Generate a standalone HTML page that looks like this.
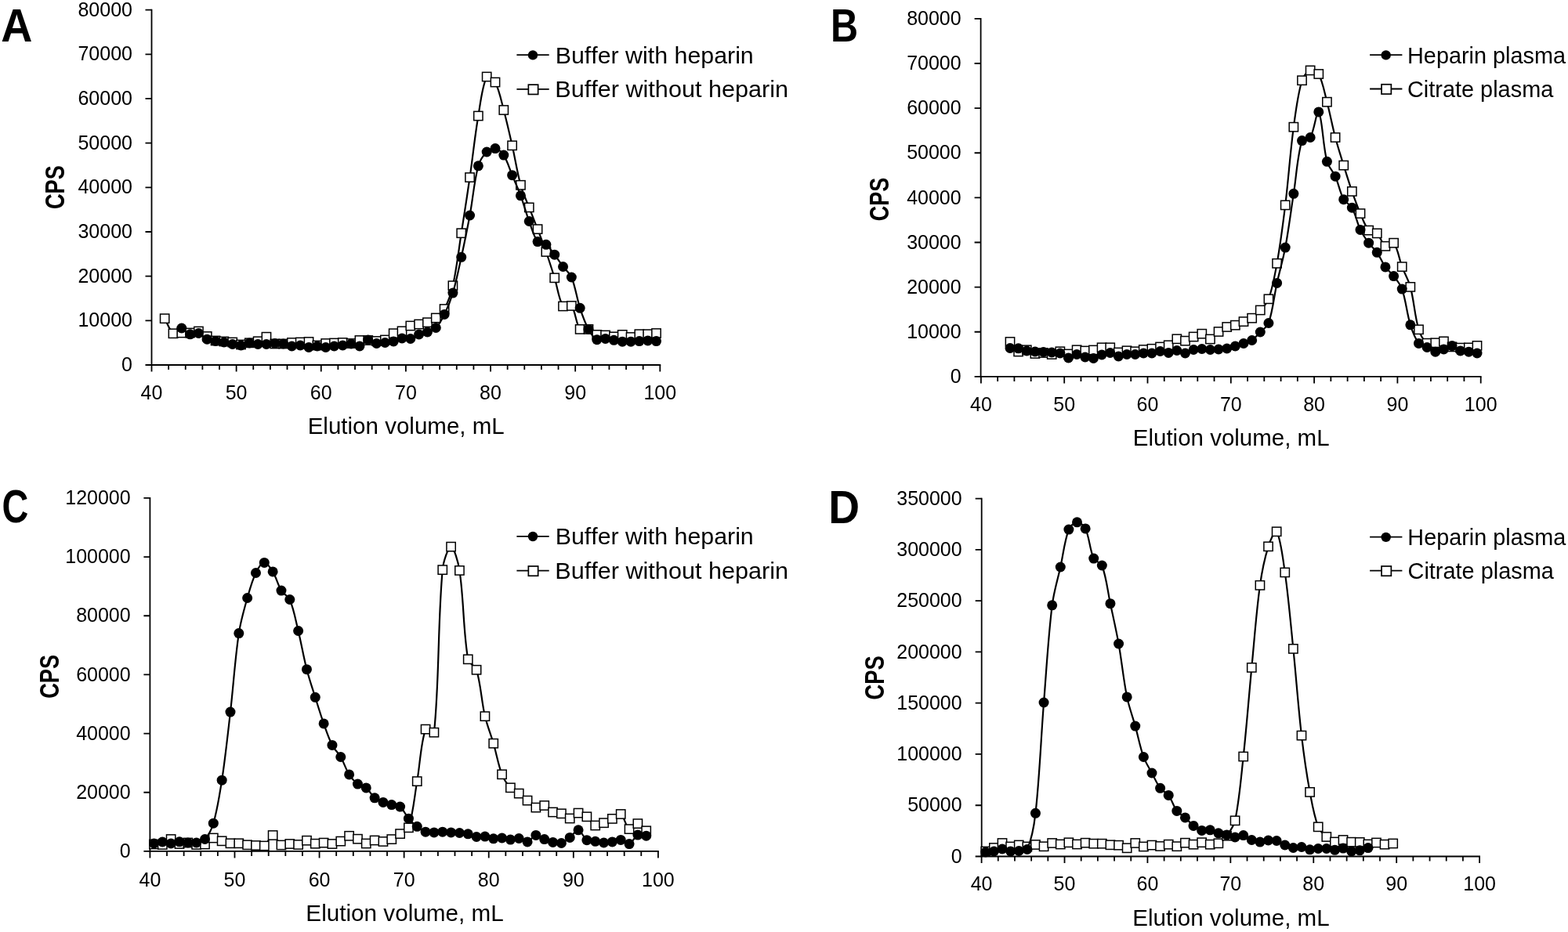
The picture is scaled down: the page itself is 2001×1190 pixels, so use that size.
<!DOCTYPE html>
<html><head><meta charset="utf-8"><title>Elution profiles</title>
<style>
html,body{margin:0;padding:0;background:#fff;}
svg{display:block;}
text{font-family:"Liberation Sans", Arial, sans-serif;fill:#000;font-kerning:none;}
.tk{font-size:25.0px;}
.tt{font-size:29.1px;}
.lg{font-size:28.6px;}
.lt{font-size:58.9px;font-weight:bold;}
.cp{font-size:35.2px;font-weight:bold;}
.ax{stroke:#000;stroke-width:1.8;fill:none;stroke-linecap:square;}
.sl{stroke:#000;stroke-width:2.2;fill:none;stroke-linejoin:round;}
.sq{fill:#fff;stroke:#000;stroke-width:1.5;}
</style></head><body>
<svg width="2001" height="1190" viewBox="0 0 2001 1190">
<rect width="2001" height="1190" fill="#fff"/>
<g>
<path class="ax" d="M193.5 12.6 V466 H842.3"/>
<path class="ax" style="stroke-linecap:butt" d="M185.5 466H193.5M185.5 409.32H193.5M185.5 352.65H193.5M185.5 295.98H193.5M185.5 239.3H193.5M185.5 182.62H193.5M185.5 125.95H193.5M185.5 69.28H193.5M185.5 12.6H193.5M193.5 466V474.5M215.13 466V472M236.75 466V472M258.38 466V472M280.01 466V472M301.63 466V474.5M323.26 466V472M344.89 466V472M366.51 466V472M388.14 466V472M409.77 466V474.5M431.39 466V472M453.02 466V472M474.65 466V472M496.27 466V472M517.9 466V474.5M539.53 466V472M561.15 466V472M582.78 466V472M604.41 466V472M626.03 466V474.5M647.66 466V472M669.29 466V472M690.91 466V472M712.54 466V472M734.17 466V474.5M755.79 466V472M777.42 466V472M799.05 466V472M820.67 466V472M842.3 466V474.5"/>
<text class="tk" x="169" y="474.1" text-anchor="end">0</text>
<text class="tk" x="169" y="417.43" text-anchor="end">10000</text>
<text class="tk" x="169" y="360.75" text-anchor="end">20000</text>
<text class="tk" x="169" y="304.08" text-anchor="end">30000</text>
<text class="tk" x="169" y="247.4" text-anchor="end">40000</text>
<text class="tk" x="169" y="190.72" text-anchor="end">50000</text>
<text class="tk" x="169" y="134.05" text-anchor="end">60000</text>
<text class="tk" x="169" y="77.38" text-anchor="end">70000</text>
<text class="tk" x="169" y="20.7" text-anchor="end">80000</text>
<text class="tk" x="193.5" y="509.7" text-anchor="middle">40</text>
<text class="tk" x="301.63" y="509.7" text-anchor="middle">50</text>
<text class="tk" x="409.77" y="509.7" text-anchor="middle">60</text>
<text class="tk" x="517.9" y="509.7" text-anchor="middle">70</text>
<text class="tk" x="626.03" y="509.7" text-anchor="middle">80</text>
<text class="tk" x="734.17" y="509.7" text-anchor="middle">90</text>
<text class="tk" x="842.3" y="509.7" text-anchor="middle">100</text>
<text class="tt" x="392.68" y="553.9" textLength="251.1" lengthAdjust="spacingAndGlyphs">Elution volume, mL</text>
<text class="cp" transform="translate(82 0) rotate(-90)" x="-267.11" y="0" textLength="55.88" lengthAdjust="spacingAndGlyphs">CPS</text>
<text class="lt" x="1.32" y="53.1" textLength="40.15" lengthAdjust="spacingAndGlyphs">A</text>
<path class="sl" d="M210.17 406.7C213.77 413.07 216.16 421.72 220.98 425.8C223.37 427.82 228.19 425.13 231.8 425C235.4 424.87 239.04 425.33 242.62 425C246.25 424.66 250.07 422.3 253.43 423C257.28 423.8 260.57 427.46 264.25 429.5C267.78 431.46 271.26 433.86 275.06 435C278.47 436.02 282.27 435.67 285.88 436C289.49 436.33 293.15 436.34 296.7 437C300.36 437.68 303.88 439.87 307.51 440C311.09 440.13 314.72 438.5 318.33 437.8C321.93 437.1 325.72 437 329.14 435.8C332.93 434.47 336.6 429.7 339.96 430.2C343.81 430.77 346.72 437.35 350.78 439C353.93 440.28 358 439.25 361.59 439C365.21 438.75 368.79 437.83 372.41 437.5C376 437.17 379.62 437.17 383.22 437C386.83 436.83 390.58 435.86 394.04 436.5C397.79 437.19 401.15 440.66 404.86 441C408.36 441.32 412.02 439.01 415.67 438.5C419.23 438.01 422.88 438.17 426.49 438C430.09 437.83 433.7 437.42 437.3 437.5C440.92 437.58 444.62 438.99 448.12 438.5C451.83 437.99 455.22 435.19 458.94 434.5C462.43 433.85 466.15 434.33 469.75 434.5C473.37 434.67 476.97 435.58 480.57 435.5C484.18 435.42 488.18 435.45 491.38 434C495.39 432.19 498.24 427.75 502.2 425.7C505.45 424.02 509.65 424.31 513.02 422.8C516.86 421.08 519.96 417.58 523.83 416C527.17 414.64 531.05 414.71 534.65 414C538.26 413.28 542.04 412.97 545.46 411.7C549.25 410.3 553.13 408.5 556.28 406C560.34 402.77 564.7 399.08 567.1 394.5C571.91 385.31 575.62 374.97 577.91 364.7C582.83 342.71 585.23 320.05 588.73 297.7C592.44 273.98 596.11 250.26 599.54 226.5C603.32 200.36 605.98 174.03 610.36 148C613.19 131.2 615.42 109.45 621.18 98C622.63 95.12 630.13 101.35 631.99 105C637.34 115.52 639.61 128.56 642.81 140.5C646.82 155.49 650.2 170.66 653.62 185.8C657.42 202.59 659.91 219.74 664.44 236.3C667.12 246.11 671.6 255.39 675.26 264.9C678.81 274.15 682.53 283.34 686.07 292.6C689.74 302.21 693.51 311.79 696.89 321.5C700.72 332.52 704.24 343.66 707.7 354.8C711.45 366.82 712.92 381.75 718.52 391C720.13 393.65 727.5 388.01 729.34 390.5C734.71 397.81 734.77 412.96 740.15 420.4C741.98 422.93 747.68 419.34 750.97 420.4C754.89 421.67 757.87 426.02 761.78 427.4C765.08 428.56 769.02 427.59 772.6 428C776.23 428.42 779.83 430 783.42 429.9C787.04 429.8 790.65 427.3 794.23 427.4C797.86 427.5 801.48 430.62 805.05 430.5C808.69 430.38 812.15 427.35 815.86 426.7C819.36 426.09 823.09 426.9 826.68 426.7C830.3 426.5 833.89 425.9 837.5 425.5"/>
<rect class="sq" x="204.52" y="401.05" width="11.3" height="11.3"/><rect class="sq" x="215.33" y="420.15" width="11.3" height="11.3"/><rect class="sq" x="226.15" y="419.35" width="11.3" height="11.3"/><rect class="sq" x="236.97" y="419.35" width="11.3" height="11.3"/><rect class="sq" x="247.78" y="417.35" width="11.3" height="11.3"/><rect class="sq" x="258.6" y="423.85" width="11.3" height="11.3"/><rect class="sq" x="269.41" y="429.35" width="11.3" height="11.3"/><rect class="sq" x="280.23" y="430.35" width="11.3" height="11.3"/><rect class="sq" x="291.05" y="431.35" width="11.3" height="11.3"/><rect class="sq" x="301.86" y="434.35" width="11.3" height="11.3"/><rect class="sq" x="312.68" y="432.15" width="11.3" height="11.3"/><rect class="sq" x="323.49" y="430.15" width="11.3" height="11.3"/><rect class="sq" x="334.31" y="424.55" width="11.3" height="11.3"/><rect class="sq" x="345.13" y="433.35" width="11.3" height="11.3"/><rect class="sq" x="355.94" y="433.35" width="11.3" height="11.3"/><rect class="sq" x="366.76" y="431.85" width="11.3" height="11.3"/><rect class="sq" x="377.57" y="431.35" width="11.3" height="11.3"/><rect class="sq" x="388.39" y="430.85" width="11.3" height="11.3"/><rect class="sq" x="399.21" y="435.35" width="11.3" height="11.3"/><rect class="sq" x="410.02" y="432.85" width="11.3" height="11.3"/><rect class="sq" x="420.84" y="432.35" width="11.3" height="11.3"/><rect class="sq" x="431.65" y="431.85" width="11.3" height="11.3"/><rect class="sq" x="442.47" y="432.85" width="11.3" height="11.3"/><rect class="sq" x="453.29" y="428.85" width="11.3" height="11.3"/><rect class="sq" x="464.1" y="428.85" width="11.3" height="11.3"/><rect class="sq" x="474.92" y="429.85" width="11.3" height="11.3"/><rect class="sq" x="485.73" y="428.35" width="11.3" height="11.3"/><rect class="sq" x="496.55" y="420.05" width="11.3" height="11.3"/><rect class="sq" x="507.37" y="417.15" width="11.3" height="11.3"/><rect class="sq" x="518.18" y="410.35" width="11.3" height="11.3"/><rect class="sq" x="529" y="408.35" width="11.3" height="11.3"/><rect class="sq" x="539.81" y="406.05" width="11.3" height="11.3"/><rect class="sq" x="550.63" y="400.35" width="11.3" height="11.3"/><rect class="sq" x="561.45" y="388.85" width="11.3" height="11.3"/><rect class="sq" x="572.26" y="359.05" width="11.3" height="11.3"/><rect class="sq" x="583.08" y="292.05" width="11.3" height="11.3"/><rect class="sq" x="593.89" y="220.85" width="11.3" height="11.3"/><rect class="sq" x="604.71" y="142.35" width="11.3" height="11.3"/><rect class="sq" x="615.53" y="92.35" width="11.3" height="11.3"/><rect class="sq" x="626.34" y="99.35" width="11.3" height="11.3"/><rect class="sq" x="637.16" y="134.85" width="11.3" height="11.3"/><rect class="sq" x="647.97" y="180.15" width="11.3" height="11.3"/><rect class="sq" x="658.79" y="230.65" width="11.3" height="11.3"/><rect class="sq" x="669.61" y="259.25" width="11.3" height="11.3"/><rect class="sq" x="680.42" y="286.95" width="11.3" height="11.3"/><rect class="sq" x="691.24" y="315.85" width="11.3" height="11.3"/><rect class="sq" x="702.05" y="349.15" width="11.3" height="11.3"/><rect class="sq" x="712.87" y="385.35" width="11.3" height="11.3"/><rect class="sq" x="723.69" y="384.85" width="11.3" height="11.3"/><rect class="sq" x="734.5" y="414.75" width="11.3" height="11.3"/><rect class="sq" x="745.32" y="414.75" width="11.3" height="11.3"/><rect class="sq" x="756.13" y="421.75" width="11.3" height="11.3"/><rect class="sq" x="766.95" y="422.35" width="11.3" height="11.3"/><rect class="sq" x="777.77" y="424.25" width="11.3" height="11.3"/><rect class="sq" x="788.58" y="421.75" width="11.3" height="11.3"/><rect class="sq" x="799.4" y="424.85" width="11.3" height="11.3"/><rect class="sq" x="810.21" y="421.05" width="11.3" height="11.3"/><rect class="sq" x="821.03" y="421.05" width="11.3" height="11.3"/><rect class="sq" x="831.85" y="419.85" width="11.3" height="11.3"/>
<path class="sl" d="M231.8 419C235.41 421.6 238.65 425.61 242.62 426.8C245.86 427.77 250.18 424.54 253.43 425.5C257.39 426.67 260.31 431.38 264.25 433.2C267.52 434.71 271.44 434.86 275.06 435.5C278.65 436.13 282.3 436.34 285.88 437C289.52 437.67 293.06 438.83 296.7 439.5C300.27 440.16 303.96 441.25 307.51 441C311.17 440.75 314.67 438.25 318.33 438C321.88 437.75 325.52 439.25 329.14 439.5C332.73 439.75 336.36 439.67 339.96 439.5C343.57 439.33 347.16 438.58 350.78 438.5C354.38 438.42 358.05 438.43 361.59 439C365.26 439.59 368.74 441.66 372.41 442C375.95 442.33 379.66 440.75 383.22 441C386.87 441.25 390.4 443.33 394.04 443.5C397.62 443.67 401.25 442 404.86 442C408.46 442 412.07 443.5 415.67 443.5C419.28 443.5 422.87 442.42 426.49 442C430.08 441.58 433.72 441.5 437.3 441C440.93 440.5 444.55 438.84 448.12 439C451.76 439.17 455.66 442.76 458.94 442C462.87 441.09 465.9 434.62 469.75 434C473.11 433.46 476.83 437.89 480.57 438.5C484.04 439.06 487.79 437.92 491.38 437.5C495 437.08 498.69 436.89 502.2 436C505.9 435.06 509.3 432.6 513.02 432C516.51 431.44 520.43 433.29 523.83 432.5C527.64 431.62 530.9 428.47 534.65 427C538.11 425.64 542 425.36 545.46 424C549.21 422.53 553.58 421.32 556.28 418.5C560.79 413.79 564.15 407.44 567.1 401.4C571.37 392.64 575.14 383.46 577.91 374.1C582.35 359.1 585.38 343.62 588.73 328.3C592.59 310.59 596.23 292.82 599.54 275C603.45 253.99 604.92 232.18 610.36 211.8C612.13 205.18 616.56 198.74 621.18 194C623.77 191.34 628.68 188.97 631.99 189.6C635.89 190.34 640.42 194.34 642.81 198.1C647.63 205.7 650.05 215.15 653.62 223.7C657.26 232.39 661.19 240.97 664.44 249.8C668.4 260.57 671.29 271.73 675.26 282.5C678.51 291.33 680.94 301.53 686.07 308.6C688.15 311.46 693.97 310.06 696.89 312.3C701.18 315.6 704.29 320.75 707.7 325.2C711.5 330.15 714.77 335.51 718.52 340.5C721.98 345.11 727.19 348.76 729.34 354C734.4 366.36 735.95 380.4 740.15 393.3C743.16 402.53 746.43 411.92 750.97 420.4C753.64 425.38 757.38 431.25 761.78 433.7C764.59 435.25 769.01 432.3 772.6 432.4C776.22 432.5 779.81 433.67 783.42 434.3C787.02 434.93 790.6 435.88 794.23 436.2C797.81 436.51 801.45 436.3 805.05 436.2C808.66 436.1 812.26 435.82 815.86 435.6C819.47 435.38 823.07 434.9 826.68 434.9C830.29 434.9 833.89 435.37 837.5 435.6"/>
<circle cx="231.8" cy="419" r="6.5"/><circle cx="242.62" cy="426.8" r="6.5"/><circle cx="253.43" cy="425.5" r="6.5"/><circle cx="264.25" cy="433.2" r="6.5"/><circle cx="275.06" cy="435.5" r="6.5"/><circle cx="285.88" cy="437" r="6.5"/><circle cx="296.7" cy="439.5" r="6.5"/><circle cx="307.51" cy="441" r="6.5"/><circle cx="318.33" cy="438" r="6.5"/><circle cx="329.14" cy="439.5" r="6.5"/><circle cx="339.96" cy="439.5" r="6.5"/><circle cx="350.78" cy="438.5" r="6.5"/><circle cx="361.59" cy="439" r="6.5"/><circle cx="372.41" cy="442" r="6.5"/><circle cx="383.22" cy="441" r="6.5"/><circle cx="394.04" cy="443.5" r="6.5"/><circle cx="404.86" cy="442" r="6.5"/><circle cx="415.67" cy="443.5" r="6.5"/><circle cx="426.49" cy="442" r="6.5"/><circle cx="437.3" cy="441" r="6.5"/><circle cx="448.12" cy="439" r="6.5"/><circle cx="458.94" cy="442" r="6.5"/><circle cx="469.75" cy="434" r="6.5"/><circle cx="480.57" cy="438.5" r="6.5"/><circle cx="491.38" cy="437.5" r="6.5"/><circle cx="502.2" cy="436" r="6.5"/><circle cx="513.02" cy="432" r="6.5"/><circle cx="523.83" cy="432.5" r="6.5"/><circle cx="534.65" cy="427" r="6.5"/><circle cx="545.46" cy="424" r="6.5"/><circle cx="556.28" cy="418.5" r="6.5"/><circle cx="567.1" cy="401.4" r="6.5"/><circle cx="577.91" cy="374.1" r="6.5"/><circle cx="588.73" cy="328.3" r="6.5"/><circle cx="599.54" cy="275" r="6.5"/><circle cx="610.36" cy="211.8" r="6.5"/><circle cx="621.18" cy="194" r="6.5"/><circle cx="631.99" cy="189.6" r="6.5"/><circle cx="642.81" cy="198.1" r="6.5"/><circle cx="653.62" cy="223.7" r="6.5"/><circle cx="664.44" cy="249.8" r="6.5"/><circle cx="675.26" cy="282.5" r="6.5"/><circle cx="686.07" cy="308.6" r="6.5"/><circle cx="696.89" cy="312.3" r="6.5"/><circle cx="707.7" cy="325.2" r="6.5"/><circle cx="718.52" cy="340.5" r="6.5"/><circle cx="729.34" cy="354" r="6.5"/><circle cx="740.15" cy="393.3" r="6.5"/><circle cx="750.97" cy="420.4" r="6.5"/><circle cx="761.78" cy="433.7" r="6.5"/><circle cx="772.6" cy="432.4" r="6.5"/><circle cx="783.42" cy="434.3" r="6.5"/><circle cx="794.23" cy="436.2" r="6.5"/><circle cx="805.05" cy="436.2" r="6.5"/><circle cx="815.86" cy="435.6" r="6.5"/><circle cx="826.68" cy="434.9" r="6.5"/><circle cx="837.5" cy="435.6" r="6.5"/>
<path class="ax" style="stroke-linecap:butt" d="M659.4 70.2h41.3M659.4 113.9h41.3"/>
<circle cx="680" cy="70.4" r="6.2"/>
<rect class="sq" style="stroke-width:1.7" x="674.35" y="108.15" width="12.3" height="12.3"/>
<text class="lg" x="708.71" y="80.9" textLength="253.06" lengthAdjust="spacingAndGlyphs">Buffer with heparin</text>
<text class="lg" x="708.29" y="124.1" textLength="297.8" lengthAdjust="spacingAndGlyphs">Buffer without heparin</text>
</g>
<g>
<path class="ax" d="M1251.6 23.9 V480.9 H1889.7"/>
<path class="ax" style="stroke-linecap:butt" d="M1243.6 480.9H1251.6M1243.6 423.77H1251.6M1243.6 366.65H1251.6M1243.6 309.52H1251.6M1243.6 252.4H1251.6M1243.6 195.27H1251.6M1243.6 138.15H1251.6M1243.6 81.02H1251.6M1243.6 23.9H1251.6M1251.9 480.9V489.4M1273.16 480.9V486.9M1294.42 480.9V486.9M1315.68 480.9V486.9M1336.94 480.9V486.9M1358.2 480.9V489.4M1379.46 480.9V486.9M1400.72 480.9V486.9M1421.98 480.9V486.9M1443.24 480.9V486.9M1464.5 480.9V489.4M1485.76 480.9V486.9M1507.02 480.9V486.9M1528.28 480.9V486.9M1549.54 480.9V486.9M1570.8 480.9V489.4M1592.06 480.9V486.9M1613.32 480.9V486.9M1634.58 480.9V486.9M1655.84 480.9V486.9M1677.1 480.9V489.4M1698.36 480.9V486.9M1719.62 480.9V486.9M1740.88 480.9V486.9M1762.14 480.9V486.9M1783.4 480.9V489.4M1804.66 480.9V486.9M1825.92 480.9V486.9M1847.18 480.9V486.9M1868.44 480.9V486.9M1889.7 480.9V489.4"/>
<text class="tk" x="1226.7" y="489" text-anchor="end">0</text>
<text class="tk" x="1226.7" y="431.88" text-anchor="end">10000</text>
<text class="tk" x="1226.7" y="374.75" text-anchor="end">20000</text>
<text class="tk" x="1226.7" y="317.62" text-anchor="end">30000</text>
<text class="tk" x="1226.7" y="260.5" text-anchor="end">40000</text>
<text class="tk" x="1226.7" y="203.37" text-anchor="end">50000</text>
<text class="tk" x="1226.7" y="146.25" text-anchor="end">60000</text>
<text class="tk" x="1226.7" y="89.12" text-anchor="end">70000</text>
<text class="tk" x="1226.7" y="32" text-anchor="end">80000</text>
<text class="tk" x="1251.9" y="524.7" text-anchor="middle">40</text>
<text class="tk" x="1358.2" y="524.7" text-anchor="middle">50</text>
<text class="tk" x="1464.5" y="524.7" text-anchor="middle">60</text>
<text class="tk" x="1570.8" y="524.7" text-anchor="middle">70</text>
<text class="tk" x="1677.1" y="524.7" text-anchor="middle">80</text>
<text class="tk" x="1783.4" y="524.7" text-anchor="middle">90</text>
<text class="tk" x="1889.7" y="524.7" text-anchor="middle">100</text>
<text class="tt" x="1445.78" y="568.5" textLength="250.8" lengthAdjust="spacingAndGlyphs">Elution volume, mL</text>
<text class="cp" transform="translate(1133.6 0) rotate(-90)" x="-282.21" y="0" textLength="55.56" lengthAdjust="spacingAndGlyphs">CPS</text>
<text class="lt" x="1059.95" y="53.2" textLength="35.05" lengthAdjust="spacingAndGlyphs">B</text>
<path class="sl" d="M1289 436.5C1292.55 440.67 1295.37 446.93 1299.64 449C1302.47 450.37 1306.86 446.4 1310.29 446.8C1313.95 447.23 1317.23 450.86 1320.93 451.5C1324.33 452.09 1328.05 450.33 1331.57 450.5C1335.14 450.67 1338.74 452.78 1342.21 452.5C1345.83 452.21 1349.29 448.88 1352.86 448.8C1356.38 448.72 1360.07 452.32 1363.5 452C1367.16 451.66 1370.42 447.5 1374.14 446.8C1377.51 446.17 1381.24 447.97 1384.79 448C1388.33 448.03 1391.95 447.69 1395.43 447C1399.05 446.29 1402.45 444.34 1406.07 443.8C1409.54 443.28 1413.43 442.84 1416.72 443.8C1420.52 444.91 1423.59 449.29 1427.36 450C1430.68 450.62 1434.43 448 1438 447.8C1441.52 447.6 1445.13 449.01 1448.64 448.8C1452.23 448.58 1455.71 447.09 1459.29 446.5C1462.81 445.92 1466.41 445.88 1469.93 445.3C1473.51 444.71 1477.02 443.75 1480.57 443C1484.12 442.25 1488.03 442.33 1491.22 440.8C1495.12 438.93 1497.96 433.83 1501.86 432.8C1505.06 431.96 1509.1 435.65 1512.5 435.2C1516.2 434.71 1519.51 431.54 1523.15 430C1526.61 428.54 1530.44 425.73 1533.79 426.2C1537.53 426.73 1541.1 433.42 1544.43 433C1548.2 432.52 1551.25 426.28 1555.08 423.5C1558.35 421.12 1561.97 418.96 1565.72 417.5C1569.06 416.2 1572.92 416.31 1576.36 415.2C1580.02 414.01 1583.44 412.11 1587 410.6C1590.54 409.11 1594.54 408.33 1597.65 406.2C1601.63 403.47 1605.07 399.69 1608.29 396C1612.17 391.56 1616.98 387.28 1618.93 381.8C1624.08 367.38 1626.86 351.62 1629.58 336.3C1633.95 311.66 1637.18 286.76 1640.22 261.9C1644.27 228.73 1646.44 195.31 1650.86 162.2C1653.53 142.24 1655.94 121.6 1661.51 102.7C1663.04 97.5 1667.97 91.51 1672.15 89.9C1675.06 88.78 1681.11 91.31 1682.79 94.5C1688.2 104.74 1690.28 118.2 1693.43 130.2C1697.37 145.2 1700.13 160.51 1704.08 175.5C1707.23 187.47 1711.06 199.27 1714.72 211.1C1718.16 222.23 1721.55 233.39 1725.36 244.4C1728.65 253.89 1732.06 263.38 1736.01 272.6C1739.15 279.94 1741.83 288.37 1746.65 294.1C1748.92 296.8 1754.69 295.43 1757.29 297.9C1761.79 302.17 1763.45 311.71 1767.93 314.3C1770.55 315.81 1776.72 307.91 1778.58 310.2C1783.82 316.67 1785.42 330.56 1789.22 340.6C1792.51 349.3 1797.49 357.45 1799.86 366.4C1804.58 384.18 1805.32 403.3 1810.51 420.8C1812.42 427.24 1816.49 434.48 1821.15 438.2C1823.58 440.14 1828.27 438.18 1831.79 437.8C1835.37 437.41 1839.18 435.12 1842.44 435.9C1846.27 436.82 1849.22 441.42 1853.08 442.9C1856.32 444.15 1860.16 443.93 1863.72 444.1C1867.26 444.27 1870.86 444.34 1874.37 443.9C1877.96 443.44 1881.46 442.23 1885.01 441.4"/>
<rect class="sq" x="1283.35" y="430.85" width="11.3" height="11.3"/><rect class="sq" x="1293.99" y="443.35" width="11.3" height="11.3"/><rect class="sq" x="1304.64" y="441.15" width="11.3" height="11.3"/><rect class="sq" x="1315.28" y="445.85" width="11.3" height="11.3"/><rect class="sq" x="1325.92" y="444.85" width="11.3" height="11.3"/><rect class="sq" x="1336.56" y="446.85" width="11.3" height="11.3"/><rect class="sq" x="1347.21" y="443.15" width="11.3" height="11.3"/><rect class="sq" x="1357.85" y="446.35" width="11.3" height="11.3"/><rect class="sq" x="1368.49" y="441.15" width="11.3" height="11.3"/><rect class="sq" x="1379.14" y="442.35" width="11.3" height="11.3"/><rect class="sq" x="1389.78" y="441.35" width="11.3" height="11.3"/><rect class="sq" x="1400.42" y="438.15" width="11.3" height="11.3"/><rect class="sq" x="1411.07" y="438.15" width="11.3" height="11.3"/><rect class="sq" x="1421.71" y="444.35" width="11.3" height="11.3"/><rect class="sq" x="1432.35" y="442.15" width="11.3" height="11.3"/><rect class="sq" x="1442.99" y="443.15" width="11.3" height="11.3"/><rect class="sq" x="1453.64" y="440.85" width="11.3" height="11.3"/><rect class="sq" x="1464.28" y="439.65" width="11.3" height="11.3"/><rect class="sq" x="1474.92" y="437.35" width="11.3" height="11.3"/><rect class="sq" x="1485.57" y="435.15" width="11.3" height="11.3"/><rect class="sq" x="1496.21" y="427.15" width="11.3" height="11.3"/><rect class="sq" x="1506.85" y="429.55" width="11.3" height="11.3"/><rect class="sq" x="1517.5" y="424.35" width="11.3" height="11.3"/><rect class="sq" x="1528.14" y="420.55" width="11.3" height="11.3"/><rect class="sq" x="1538.78" y="427.35" width="11.3" height="11.3"/><rect class="sq" x="1549.42" y="417.85" width="11.3" height="11.3"/><rect class="sq" x="1560.07" y="411.85" width="11.3" height="11.3"/><rect class="sq" x="1570.71" y="409.55" width="11.3" height="11.3"/><rect class="sq" x="1581.35" y="404.95" width="11.3" height="11.3"/><rect class="sq" x="1592" y="400.55" width="11.3" height="11.3"/><rect class="sq" x="1602.64" y="390.35" width="11.3" height="11.3"/><rect class="sq" x="1613.28" y="376.15" width="11.3" height="11.3"/><rect class="sq" x="1623.93" y="330.65" width="11.3" height="11.3"/><rect class="sq" x="1634.57" y="256.25" width="11.3" height="11.3"/><rect class="sq" x="1645.21" y="156.55" width="11.3" height="11.3"/><rect class="sq" x="1655.86" y="97.05" width="11.3" height="11.3"/><rect class="sq" x="1666.5" y="84.25" width="11.3" height="11.3"/><rect class="sq" x="1677.14" y="88.85" width="11.3" height="11.3"/><rect class="sq" x="1687.78" y="124.55" width="11.3" height="11.3"/><rect class="sq" x="1698.43" y="169.85" width="11.3" height="11.3"/><rect class="sq" x="1709.07" y="205.45" width="11.3" height="11.3"/><rect class="sq" x="1719.71" y="238.75" width="11.3" height="11.3"/><rect class="sq" x="1730.36" y="266.95" width="11.3" height="11.3"/><rect class="sq" x="1741" y="288.45" width="11.3" height="11.3"/><rect class="sq" x="1751.64" y="292.25" width="11.3" height="11.3"/><rect class="sq" x="1762.28" y="308.65" width="11.3" height="11.3"/><rect class="sq" x="1772.93" y="304.55" width="11.3" height="11.3"/><rect class="sq" x="1783.57" y="334.95" width="11.3" height="11.3"/><rect class="sq" x="1794.21" y="360.75" width="11.3" height="11.3"/><rect class="sq" x="1804.86" y="415.15" width="11.3" height="11.3"/><rect class="sq" x="1815.5" y="432.55" width="11.3" height="11.3"/><rect class="sq" x="1826.14" y="432.15" width="11.3" height="11.3"/><rect class="sq" x="1836.79" y="430.25" width="11.3" height="11.3"/><rect class="sq" x="1847.43" y="437.25" width="11.3" height="11.3"/><rect class="sq" x="1858.07" y="438.45" width="11.3" height="11.3"/><rect class="sq" x="1868.71" y="438.25" width="11.3" height="11.3"/><rect class="sq" x="1879.36" y="435.75" width="11.3" height="11.3"/>
<path class="sl" d="M1289 444.5C1292.55 444.6 1296.17 444.23 1299.64 444.8C1303.27 445.4 1306.67 447.29 1310.29 448C1313.76 448.69 1317.38 448.75 1320.93 449C1324.47 449.25 1328.02 449.33 1331.57 449.5C1335.12 449.67 1338.67 449.75 1342.21 450C1345.77 450.25 1349.55 449.91 1352.86 451C1356.64 452.24 1359.85 456.74 1363.5 457C1366.95 457.24 1370.54 452.67 1374.14 452.5C1377.64 452.34 1381.17 455.15 1384.79 456C1388.26 456.82 1392.01 457.98 1395.43 457.5C1399.11 456.98 1402.43 454.2 1406.07 453C1409.52 451.87 1413.27 450.18 1416.72 450.5C1420.36 450.84 1423.71 454.66 1427.36 455C1430.81 455.32 1434.41 452.92 1438 452.5C1441.5 452.09 1445.11 452.75 1448.64 452.5C1452.21 452.25 1455.72 451.25 1459.29 451C1462.82 450.75 1466.43 451.41 1469.93 451C1473.53 450.58 1477.01 448.58 1480.57 448.5C1484.1 448.42 1487.71 450.66 1491.22 450.5C1494.8 450.33 1498.34 447.42 1501.86 447.5C1505.43 447.58 1509.01 451.16 1512.5 451C1516.11 450.83 1519.46 447.45 1523.15 446.5C1526.56 445.62 1530.24 445.5 1533.79 445.5C1537.34 445.5 1540.88 446.42 1544.43 446.5C1547.97 446.58 1551.53 446.25 1555.08 446C1558.63 445.75 1562.23 445.66 1565.72 445C1569.33 444.32 1572.84 443.08 1576.36 442C1579.93 440.91 1583.48 439.74 1587 438.5C1590.58 437.24 1594.58 436.59 1597.65 434.5C1601.68 431.75 1604.83 427.58 1608.29 424C1611.92 420.25 1617.29 417.32 1618.93 412.5C1624.39 396.45 1625.82 378.39 1629.58 361.4C1632.92 346.25 1637.38 331.34 1640.22 316.1C1644.47 293.3 1647.29 270.23 1650.86 247.3C1654.38 224.73 1655.42 200.12 1661.51 179.6C1662.52 176.19 1670.38 178.55 1672.15 175.5C1677.47 166.32 1680.32 139.33 1682.79 142.9C1687.42 149.6 1688.13 185.79 1693.43 206.3C1695.22 213.22 1701.18 218.6 1704.08 225.2C1708.27 234.74 1709.92 245.67 1714.72 254.7C1717.01 259 1723.01 260.92 1725.36 265.2C1730.11 273.82 1731.73 284.36 1736.01 293.4C1738.83 299.36 1742.73 304.88 1746.65 310.2C1749.82 314.51 1754.25 317.91 1757.29 322.3C1761.34 328.14 1763.85 335.09 1767.93 340.9C1770.95 345.19 1775.41 348.41 1778.58 352.6C1782.51 357.81 1787.13 362.98 1789.22 369.1C1794.22 383.72 1795.29 399.91 1799.86 414.8C1802.39 423.01 1805.63 431.83 1810.51 438.4C1812.73 441.4 1817.64 441.72 1821.15 443.5C1824.74 445.32 1828.1 448.77 1831.79 449.2C1835.19 449.6 1838.95 447.24 1842.44 446C1846.05 444.71 1849.66 441.29 1853.08 441.6C1856.75 441.93 1859.92 446.54 1863.72 447.9C1867.02 449.08 1870.83 448.69 1874.37 449.2C1877.92 449.72 1881.46 450.4 1885.01 451"/>
<circle cx="1289" cy="444.5" r="6.5"/><circle cx="1299.64" cy="444.8" r="6.5"/><circle cx="1310.29" cy="448" r="6.5"/><circle cx="1320.93" cy="449" r="6.5"/><circle cx="1331.57" cy="449.5" r="6.5"/><circle cx="1342.21" cy="450" r="6.5"/><circle cx="1352.86" cy="451" r="6.5"/><circle cx="1363.5" cy="457" r="6.5"/><circle cx="1374.14" cy="452.5" r="6.5"/><circle cx="1384.79" cy="456" r="6.5"/><circle cx="1395.43" cy="457.5" r="6.5"/><circle cx="1406.07" cy="453" r="6.5"/><circle cx="1416.72" cy="450.5" r="6.5"/><circle cx="1427.36" cy="455" r="6.5"/><circle cx="1438" cy="452.5" r="6.5"/><circle cx="1448.64" cy="452.5" r="6.5"/><circle cx="1459.29" cy="451" r="6.5"/><circle cx="1469.93" cy="451" r="6.5"/><circle cx="1480.57" cy="448.5" r="6.5"/><circle cx="1491.22" cy="450.5" r="6.5"/><circle cx="1501.86" cy="447.5" r="6.5"/><circle cx="1512.5" cy="451" r="6.5"/><circle cx="1523.15" cy="446.5" r="6.5"/><circle cx="1533.79" cy="445.5" r="6.5"/><circle cx="1544.43" cy="446.5" r="6.5"/><circle cx="1555.08" cy="446" r="6.5"/><circle cx="1565.72" cy="445" r="6.5"/><circle cx="1576.36" cy="442" r="6.5"/><circle cx="1587" cy="438.5" r="6.5"/><circle cx="1597.65" cy="434.5" r="6.5"/><circle cx="1608.29" cy="424" r="6.5"/><circle cx="1618.93" cy="412.5" r="6.5"/><circle cx="1629.58" cy="361.4" r="6.5"/><circle cx="1640.22" cy="316.1" r="6.5"/><circle cx="1650.86" cy="247.3" r="6.5"/><circle cx="1661.51" cy="179.6" r="6.5"/><circle cx="1672.15" cy="175.5" r="6.5"/><circle cx="1682.79" cy="142.9" r="6.5"/><circle cx="1693.43" cy="206.3" r="6.5"/><circle cx="1704.08" cy="225.2" r="6.5"/><circle cx="1714.72" cy="254.7" r="6.5"/><circle cx="1725.36" cy="265.2" r="6.5"/><circle cx="1736.01" cy="293.4" r="6.5"/><circle cx="1746.65" cy="310.2" r="6.5"/><circle cx="1757.29" cy="322.3" r="6.5"/><circle cx="1767.93" cy="340.9" r="6.5"/><circle cx="1778.58" cy="352.6" r="6.5"/><circle cx="1789.22" cy="369.1" r="6.5"/><circle cx="1799.86" cy="414.8" r="6.5"/><circle cx="1810.51" cy="438.4" r="6.5"/><circle cx="1821.15" cy="443.5" r="6.5"/><circle cx="1831.79" cy="449.2" r="6.5"/><circle cx="1842.44" cy="446" r="6.5"/><circle cx="1853.08" cy="441.6" r="6.5"/><circle cx="1863.72" cy="447.9" r="6.5"/><circle cx="1874.37" cy="449.2" r="6.5"/><circle cx="1885.01" cy="451" r="6.5"/>
<path class="ax" style="stroke-linecap:butt" d="M1748.1 70.2h41.3M1748.1 113.5h41.3"/>
<circle cx="1768.7" cy="70.4" r="6.2"/>
<rect class="sq" style="stroke-width:1.7" x="1763.05" y="107.75" width="12.3" height="12.3"/>
<text class="lg" x="1796.03" y="81" textLength="201.97" lengthAdjust="spacingAndGlyphs">Heparin plasma</text>
<text class="lg" x="1795.93" y="123.7" textLength="186.37" lengthAdjust="spacingAndGlyphs">Citrate plasma</text>
</g>
<g>
<path class="ax" d="M191.4 635.9 V1086.9 H839.9"/>
<path class="ax" style="stroke-linecap:butt" d="M183.4 1086.9H191.4M183.4 1011.73H191.4M183.4 936.57H191.4M183.4 861.4H191.4M183.4 786.23H191.4M183.4 711.07H191.4M183.4 635.9H191.4M191.4 1086.9V1095.4M213.02 1086.9V1092.9M234.63 1086.9V1092.9M256.25 1086.9V1092.9M277.87 1086.9V1092.9M299.48 1086.9V1095.4M321.1 1086.9V1092.9M342.72 1086.9V1092.9M364.33 1086.9V1092.9M385.95 1086.9V1092.9M407.57 1086.9V1095.4M429.18 1086.9V1092.9M450.8 1086.9V1092.9M472.42 1086.9V1092.9M494.03 1086.9V1092.9M515.65 1086.9V1095.4M537.27 1086.9V1092.9M558.88 1086.9V1092.9M580.5 1086.9V1092.9M602.12 1086.9V1092.9M623.73 1086.9V1095.4M645.35 1086.9V1092.9M666.97 1086.9V1092.9M688.58 1086.9V1092.9M710.2 1086.9V1092.9M731.82 1086.9V1095.4M753.43 1086.9V1092.9M775.05 1086.9V1092.9M796.67 1086.9V1092.9M818.28 1086.9V1092.9M839.9 1086.9V1095.4"/>
<text class="tk" x="166.7" y="1095" text-anchor="end">0</text>
<text class="tk" x="166.7" y="1019.83" text-anchor="end">20000</text>
<text class="tk" x="166.7" y="944.67" text-anchor="end">40000</text>
<text class="tk" x="166.7" y="869.5" text-anchor="end">60000</text>
<text class="tk" x="166.7" y="794.33" text-anchor="end">80000</text>
<text class="tk" x="166.7" y="719.17" text-anchor="end">100000</text>
<text class="tk" x="166.7" y="644" text-anchor="end">120000</text>
<text class="tk" x="191.4" y="1131.5" text-anchor="middle">40</text>
<text class="tk" x="299.48" y="1131.5" text-anchor="middle">50</text>
<text class="tk" x="407.57" y="1131.5" text-anchor="middle">60</text>
<text class="tk" x="515.65" y="1131.5" text-anchor="middle">70</text>
<text class="tk" x="623.73" y="1131.5" text-anchor="middle">80</text>
<text class="tk" x="731.82" y="1131.5" text-anchor="middle">90</text>
<text class="tk" x="839.9" y="1131.5" text-anchor="middle">100</text>
<text class="tt" x="390.37" y="1176.2" textLength="252.32" lengthAdjust="spacingAndGlyphs">Elution volume, mL</text>
<text class="cp" transform="translate(74.5 0) rotate(-90)" x="-891.82" y="0" textLength="55.98" lengthAdjust="spacingAndGlyphs">CPS</text>
<text class="lt" x="2.48" y="667.1" textLength="33.8" lengthAdjust="spacingAndGlyphs">C</text>
<path class="sl" d="M196.5 1078C200.11 1078.17 204.03 1079.49 207.33 1078.5C211.25 1077.32 214.48 1071.67 218.16 1071.5C221.7 1071.34 225.16 1076.7 228.99 1077.5C232.38 1078.2 236.24 1075.83 239.82 1076C243.46 1076.17 247 1078.16 250.66 1078.5C254.22 1078.83 258.27 1079.26 261.49 1078C265.49 1076.43 268.42 1070.76 272.32 1070C275.64 1069.36 279.5 1072.65 283.15 1073.8C286.72 1074.92 290.3 1076.29 293.98 1076.8C297.52 1077.29 301.23 1076.47 304.81 1076.8C308.45 1077.14 312 1078.35 315.64 1078.8C319.22 1079.25 322.86 1079.3 326.47 1079.5C330.08 1079.7 334.52 1081.67 337.3 1080C341.74 1077.34 344.44 1066.67 348.13 1066.5C351.66 1066.34 354.62 1076.79 358.97 1079C361.84 1080.46 366.18 1077.58 369.8 1077.5C373.4 1077.42 377.2 1079.18 380.63 1078.5C384.42 1077.75 387.77 1073.42 391.46 1073.2C394.99 1072.99 398.57 1076.7 402.29 1077.2C405.79 1077.67 409.52 1076.05 413.12 1076.1C416.74 1076.15 420.41 1077.83 423.95 1077.5C427.63 1077.16 431.39 1075.7 434.78 1074.1C438.61 1072.3 441.81 1067.81 445.61 1067.3C449.03 1066.84 452.95 1069.64 456.44 1071.2C460.17 1072.87 463.55 1076.69 467.27 1077C470.77 1077.29 474.4 1073.43 478.11 1073C481.62 1072.59 485.37 1074.73 488.94 1074.5C492.59 1074.26 496.41 1073.13 499.77 1071.6C503.63 1069.83 507.05 1067.02 510.6 1064.6C514.27 1062.09 520.12 1060.85 521.43 1056.8C527.34 1038.52 528.85 1017.37 532.26 997.6C536.07 975.47 536.93 948.85 543.09 931.1C544.15 928.05 553.54 938.78 553.92 935.2C560.76 870.95 558.48 796.25 564.75 727.6C565.7 717.22 572.02 697.97 575.59 698.1C579.24 698.23 584.83 717.85 586.42 728.4C592.05 765.75 590.98 805.08 597.25 841.8C598.2 847.38 606.47 849.89 608.08 855.3C613.69 874.15 614.4 895.06 618.91 914.6C621.62 926.36 626.35 937.6 629.74 949.2C633.57 962.33 635.73 976.15 640.57 988.8C642.95 995.01 647.02 1000.88 651.4 1005.8C654.24 1008.98 658.76 1010.49 662.23 1013.1C665.98 1015.92 669.45 1019.1 673.06 1022.1C676.67 1025.1 679.86 1029.91 683.89 1031.1C687.08 1032.04 691.5 1027.62 694.73 1028.5C698.72 1029.59 701.54 1035.09 705.56 1037C708.76 1038.52 713.01 1037.55 716.39 1038.8C720.23 1040.22 723.66 1045.11 727.22 1045C730.88 1044.88 734.29 1038.48 738.05 1038.1C741.51 1037.75 745.77 1040.52 748.88 1042.8C752.99 1045.82 755.53 1052.47 759.71 1054C762.75 1055.11 767.05 1052.09 770.54 1050.7C774.27 1049.22 777.8 1047.25 781.37 1045.4C785.03 1043.51 789.61 1037.92 792.2 1039.5C796.83 1042.32 798.49 1056.06 803.04 1058.6C805.71 1060.09 810.43 1051.25 813.87 1051.6C817.65 1051.98 821.09 1057.73 824.7 1060.8"/>
<rect class="sq" x="190.85" y="1072.35" width="11.3" height="11.3"/><rect class="sq" x="201.68" y="1072.85" width="11.3" height="11.3"/><rect class="sq" x="212.51" y="1065.85" width="11.3" height="11.3"/><rect class="sq" x="223.34" y="1071.85" width="11.3" height="11.3"/><rect class="sq" x="234.17" y="1070.35" width="11.3" height="11.3"/><rect class="sq" x="245" y="1072.85" width="11.3" height="11.3"/><rect class="sq" x="255.84" y="1072.35" width="11.3" height="11.3"/><rect class="sq" x="266.67" y="1064.35" width="11.3" height="11.3"/><rect class="sq" x="277.5" y="1068.15" width="11.3" height="11.3"/><rect class="sq" x="288.33" y="1071.15" width="11.3" height="11.3"/><rect class="sq" x="299.16" y="1071.15" width="11.3" height="11.3"/><rect class="sq" x="309.99" y="1073.15" width="11.3" height="11.3"/><rect class="sq" x="320.82" y="1073.85" width="11.3" height="11.3"/><rect class="sq" x="331.65" y="1074.35" width="11.3" height="11.3"/><rect class="sq" x="342.48" y="1060.85" width="11.3" height="11.3"/><rect class="sq" x="353.32" y="1073.35" width="11.3" height="11.3"/><rect class="sq" x="364.15" y="1071.85" width="11.3" height="11.3"/><rect class="sq" x="374.98" y="1072.85" width="11.3" height="11.3"/><rect class="sq" x="385.81" y="1067.55" width="11.3" height="11.3"/><rect class="sq" x="396.64" y="1071.55" width="11.3" height="11.3"/><rect class="sq" x="407.47" y="1070.45" width="11.3" height="11.3"/><rect class="sq" x="418.3" y="1071.85" width="11.3" height="11.3"/><rect class="sq" x="429.13" y="1068.45" width="11.3" height="11.3"/><rect class="sq" x="439.96" y="1061.65" width="11.3" height="11.3"/><rect class="sq" x="450.79" y="1065.55" width="11.3" height="11.3"/><rect class="sq" x="461.62" y="1071.35" width="11.3" height="11.3"/><rect class="sq" x="472.46" y="1067.35" width="11.3" height="11.3"/><rect class="sq" x="483.29" y="1068.85" width="11.3" height="11.3"/><rect class="sq" x="494.12" y="1065.95" width="11.3" height="11.3"/><rect class="sq" x="504.95" y="1058.95" width="11.3" height="11.3"/><rect class="sq" x="515.78" y="1051.15" width="11.3" height="11.3"/><rect class="sq" x="526.61" y="991.95" width="11.3" height="11.3"/><rect class="sq" x="537.44" y="925.45" width="11.3" height="11.3"/><rect class="sq" x="548.27" y="929.55" width="11.3" height="11.3"/><rect class="sq" x="559.1" y="721.95" width="11.3" height="11.3"/><rect class="sq" x="569.94" y="692.45" width="11.3" height="11.3"/><rect class="sq" x="580.77" y="722.75" width="11.3" height="11.3"/><rect class="sq" x="591.6" y="836.15" width="11.3" height="11.3"/><rect class="sq" x="602.43" y="849.65" width="11.3" height="11.3"/><rect class="sq" x="613.26" y="908.95" width="11.3" height="11.3"/><rect class="sq" x="624.09" y="943.55" width="11.3" height="11.3"/><rect class="sq" x="634.92" y="983.15" width="11.3" height="11.3"/><rect class="sq" x="645.75" y="1000.15" width="11.3" height="11.3"/><rect class="sq" x="656.58" y="1007.45" width="11.3" height="11.3"/><rect class="sq" x="667.41" y="1016.45" width="11.3" height="11.3"/><rect class="sq" x="678.25" y="1025.45" width="11.3" height="11.3"/><rect class="sq" x="689.08" y="1022.85" width="11.3" height="11.3"/><rect class="sq" x="699.91" y="1031.35" width="11.3" height="11.3"/><rect class="sq" x="710.74" y="1033.15" width="11.3" height="11.3"/><rect class="sq" x="721.57" y="1039.35" width="11.3" height="11.3"/><rect class="sq" x="732.4" y="1032.45" width="11.3" height="11.3"/><rect class="sq" x="743.23" y="1037.15" width="11.3" height="11.3"/><rect class="sq" x="754.06" y="1048.35" width="11.3" height="11.3"/><rect class="sq" x="764.89" y="1045.05" width="11.3" height="11.3"/><rect class="sq" x="775.72" y="1039.75" width="11.3" height="11.3"/><rect class="sq" x="786.55" y="1033.85" width="11.3" height="11.3"/><rect class="sq" x="797.39" y="1052.95" width="11.3" height="11.3"/><rect class="sq" x="808.22" y="1045.95" width="11.3" height="11.3"/><rect class="sq" x="819.05" y="1055.15" width="11.3" height="11.3"/>
<path class="sl" d="M196.5 1077C200.11 1076.33 203.72 1075 207.33 1075C210.94 1075 214.56 1077.03 218.16 1077C221.78 1076.97 225.36 1074.97 228.99 1074.8C232.58 1074.63 236.2 1075.8 239.82 1076C243.42 1076.2 247.19 1076.72 250.66 1076C254.41 1075.22 259.05 1074.29 261.49 1071.5C266.27 1066.02 270.22 1058.5 272.32 1051.2C277.44 1033.4 280.33 1014.66 283.15 996.2C287.55 967.29 290.62 938.16 293.98 909.1C297.84 875.63 299.86 841.87 304.81 808.6C307.08 793.33 311.46 778.37 315.64 763.5C318.68 752.67 321.67 741.5 326.47 731.5C328.89 726.47 333.56 718.68 337.3 718.4C340.78 718.14 345.44 725.46 348.13 729.9C352.66 737.36 354.43 746.65 358.97 754.1C361.65 758.52 367.81 760.79 369.8 765.5C375.03 777.92 377.37 792.08 380.63 805.5C384.59 821.81 387.3 838.44 391.46 854.7C394.53 866.71 398.58 878.46 402.29 890.3C405.8 901.53 409.19 912.81 413.12 923.9C416.41 933.18 419.52 942.68 423.95 951.4C426.74 956.88 431.69 961.16 434.78 966.5C438.92 973.66 441.25 981.93 445.61 988.9C448.47 993.47 452.26 997.82 456.44 1001.1C459.48 1003.48 464.29 1003.46 467.27 1005.9C471.51 1009.36 473.92 1015.22 478.11 1018.8C481.14 1021.39 485.19 1022.88 488.94 1024.4C492.41 1025.81 496.13 1026.64 499.77 1027.6C503.35 1028.54 507.9 1027.9 510.6 1030.1C515.12 1033.77 517.41 1040.53 521.43 1045.2C524.63 1048.93 528.39 1052.27 532.26 1055.3C535.61 1057.93 539.18 1060.83 543.09 1062.2C546.4 1063.36 550.31 1062.9 553.92 1062.9C557.53 1062.9 561.14 1062.2 564.75 1062.2C568.36 1062.2 571.97 1062.68 575.59 1062.9C579.19 1063.12 582.82 1063.18 586.42 1063.5C590.04 1063.82 593.72 1063.99 597.25 1064.8C600.94 1065.65 604.37 1067.94 608.08 1068.5C611.59 1069.04 615.35 1067.72 618.91 1068.1C622.57 1068.49 626.08 1070.48 629.74 1070.8C633.3 1071.11 636.99 1069.79 640.57 1070C644.21 1070.22 647.78 1072.02 651.4 1072.1C655 1072.18 658.74 1070.05 662.23 1070.5C665.96 1070.98 669.75 1075.53 673.06 1074.9C676.97 1074.16 680.04 1066.99 683.89 1066.4C687.26 1065.89 691.03 1070.07 694.73 1071.6C698.25 1073.07 701.85 1074.56 705.56 1075.4C709.07 1076.2 713.09 1077.41 716.39 1076.5C720.31 1075.41 723.81 1072.03 727.22 1069.4C731.03 1066.46 734.71 1059.29 738.05 1059.8C741.93 1060.39 744.5 1069.77 748.88 1072.7C751.73 1074.6 756.1 1073.75 759.71 1074.3C763.32 1074.85 766.92 1075.9 770.54 1076C774.14 1076.1 777.8 1075.49 781.37 1074.9C785.02 1074.29 788.73 1071.97 792.2 1072.4C795.96 1072.87 799.92 1078.51 803.04 1077.6C807.14 1076.41 809.59 1068.15 813.87 1066.1C816.81 1064.69 821.09 1066.83 824.7 1067.2"/>
<circle cx="196.5" cy="1077" r="6.5"/><circle cx="207.33" cy="1075" r="6.5"/><circle cx="218.16" cy="1077" r="6.5"/><circle cx="228.99" cy="1074.8" r="6.5"/><circle cx="239.82" cy="1076" r="6.5"/><circle cx="250.66" cy="1076" r="6.5"/><circle cx="261.49" cy="1071.5" r="6.5"/><circle cx="272.32" cy="1051.2" r="6.5"/><circle cx="283.15" cy="996.2" r="6.5"/><circle cx="293.98" cy="909.1" r="6.5"/><circle cx="304.81" cy="808.6" r="6.5"/><circle cx="315.64" cy="763.5" r="6.5"/><circle cx="326.47" cy="731.5" r="6.5"/><circle cx="337.3" cy="718.4" r="6.5"/><circle cx="348.13" cy="729.9" r="6.5"/><circle cx="358.97" cy="754.1" r="6.5"/><circle cx="369.8" cy="765.5" r="6.5"/><circle cx="380.63" cy="805.5" r="6.5"/><circle cx="391.46" cy="854.7" r="6.5"/><circle cx="402.29" cy="890.3" r="6.5"/><circle cx="413.12" cy="923.9" r="6.5"/><circle cx="423.95" cy="951.4" r="6.5"/><circle cx="434.78" cy="966.5" r="6.5"/><circle cx="445.61" cy="988.9" r="6.5"/><circle cx="456.44" cy="1001.1" r="6.5"/><circle cx="467.27" cy="1005.9" r="6.5"/><circle cx="478.11" cy="1018.8" r="6.5"/><circle cx="488.94" cy="1024.4" r="6.5"/><circle cx="499.77" cy="1027.6" r="6.5"/><circle cx="510.6" cy="1030.1" r="6.5"/><circle cx="521.43" cy="1045.2" r="6.5"/><circle cx="532.26" cy="1055.3" r="6.5"/><circle cx="543.09" cy="1062.2" r="6.5"/><circle cx="553.92" cy="1062.9" r="6.5"/><circle cx="564.75" cy="1062.2" r="6.5"/><circle cx="575.59" cy="1062.9" r="6.5"/><circle cx="586.42" cy="1063.5" r="6.5"/><circle cx="597.25" cy="1064.8" r="6.5"/><circle cx="608.08" cy="1068.5" r="6.5"/><circle cx="618.91" cy="1068.1" r="6.5"/><circle cx="629.74" cy="1070.8" r="6.5"/><circle cx="640.57" cy="1070" r="6.5"/><circle cx="651.4" cy="1072.1" r="6.5"/><circle cx="662.23" cy="1070.5" r="6.5"/><circle cx="673.06" cy="1074.9" r="6.5"/><circle cx="683.89" cy="1066.4" r="6.5"/><circle cx="694.73" cy="1071.6" r="6.5"/><circle cx="705.56" cy="1075.4" r="6.5"/><circle cx="716.39" cy="1076.5" r="6.5"/><circle cx="727.22" cy="1069.4" r="6.5"/><circle cx="738.05" cy="1059.8" r="6.5"/><circle cx="748.88" cy="1072.7" r="6.5"/><circle cx="759.71" cy="1074.3" r="6.5"/><circle cx="770.54" cy="1076" r="6.5"/><circle cx="781.37" cy="1074.9" r="6.5"/><circle cx="792.2" cy="1072.4" r="6.5"/><circle cx="803.04" cy="1077.6" r="6.5"/><circle cx="813.87" cy="1066.1" r="6.5"/><circle cx="824.7" cy="1067.2" r="6.5"/>
<path class="ax" style="stroke-linecap:butt" d="M659.4 684.8h41.3M659.4 728.7h41.3"/>
<circle cx="680" cy="685" r="6.2"/>
<rect class="sq" style="stroke-width:1.7" x="674.35" y="722.95" width="12.3" height="12.3"/>
<text class="lg" x="708.71" y="695.4" textLength="253.06" lengthAdjust="spacingAndGlyphs">Buffer with heparin</text>
<text class="lg" x="708.29" y="739.2" textLength="297.8" lengthAdjust="spacingAndGlyphs">Buffer without heparin</text>
</g>
<g>
<path class="ax" d="M1252.7 636.6 V1093.5 H1888.1"/>
<path class="ax" style="stroke-linecap:butt" d="M1244.7 1093.5H1252.7M1244.7 1028.23H1252.7M1244.7 962.96H1252.7M1244.7 897.69H1252.7M1244.7 832.41H1252.7M1244.7 767.14H1252.7M1244.7 701.87H1252.7M1244.7 636.6H1252.7M1252.6 1093.5V1102M1273.78 1093.5V1099.5M1294.97 1093.5V1099.5M1316.15 1093.5V1099.5M1337.33 1093.5V1099.5M1358.52 1093.5V1102M1379.7 1093.5V1099.5M1400.88 1093.5V1099.5M1422.07 1093.5V1099.5M1443.25 1093.5V1099.5M1464.43 1093.5V1102M1485.62 1093.5V1099.5M1506.8 1093.5V1099.5M1527.98 1093.5V1099.5M1549.17 1093.5V1099.5M1570.35 1093.5V1102M1591.53 1093.5V1099.5M1612.72 1093.5V1099.5M1633.9 1093.5V1099.5M1655.08 1093.5V1099.5M1676.27 1093.5V1102M1697.45 1093.5V1099.5M1718.63 1093.5V1099.5M1739.82 1093.5V1099.5M1761 1093.5V1099.5M1782.18 1093.5V1102M1803.37 1093.5V1099.5M1824.55 1093.5V1099.5M1845.73 1093.5V1099.5M1866.92 1093.5V1099.5M1888.1 1093.5V1102"/>
<text class="tk" x="1227.7" y="1101.6" text-anchor="end">0</text>
<text class="tk" x="1227.7" y="1036.33" text-anchor="end">50000</text>
<text class="tk" x="1227.7" y="971.06" text-anchor="end">100000</text>
<text class="tk" x="1227.7" y="905.79" text-anchor="end">150000</text>
<text class="tk" x="1227.7" y="840.51" text-anchor="end">200000</text>
<text class="tk" x="1227.7" y="775.24" text-anchor="end">250000</text>
<text class="tk" x="1227.7" y="709.97" text-anchor="end">300000</text>
<text class="tk" x="1227.7" y="644.7" text-anchor="end">350000</text>
<text class="tk" x="1252.6" y="1137.2" text-anchor="middle">40</text>
<text class="tk" x="1358.52" y="1137.2" text-anchor="middle">50</text>
<text class="tk" x="1464.43" y="1137.2" text-anchor="middle">60</text>
<text class="tk" x="1570.35" y="1137.2" text-anchor="middle">70</text>
<text class="tk" x="1676.27" y="1137.2" text-anchor="middle">80</text>
<text class="tk" x="1782.18" y="1137.2" text-anchor="middle">90</text>
<text class="tk" x="1888.1" y="1137.2" text-anchor="middle">100</text>
<text class="tt" x="1445.27" y="1182.2" textLength="251.41" lengthAdjust="spacingAndGlyphs">Elution volume, mL</text>
<text class="cp" transform="translate(1127.7 0) rotate(-90)" x="-893.52" y="0" textLength="56.4" lengthAdjust="spacingAndGlyphs">CPS</text>
<text class="lt" x="1057.31" y="668.3" textLength="39.8" lengthAdjust="spacingAndGlyphs">D</text>
<path class="sl" d="M1257.8 1087C1261.34 1085.5 1264.97 1084.2 1268.41 1082.5C1272.05 1080.7 1275.38 1076.76 1279.02 1076.5C1282.46 1076.26 1285.98 1080.57 1289.63 1081C1293.05 1081.4 1296.7 1079 1300.24 1079C1303.78 1079 1307.33 1081.08 1310.85 1081C1314.4 1080.92 1317.92 1078.53 1321.46 1078.5C1324.99 1078.47 1328.63 1081.12 1332.07 1080.8C1335.7 1080.46 1339.03 1076.98 1342.68 1076.5C1346.1 1076.05 1349.77 1078.12 1353.29 1078C1356.85 1077.88 1360.36 1075.8 1363.9 1075.8C1367.44 1075.8 1370.96 1077.93 1374.51 1078C1378.03 1078.07 1381.57 1076.33 1385.12 1076.2C1388.64 1076.07 1392.19 1077.03 1395.73 1077.2C1399.26 1077.37 1402.82 1076.93 1406.34 1077.2C1409.9 1077.47 1413.39 1078.46 1416.95 1078.8C1420.47 1079.13 1424.12 1078.55 1427.56 1079.2C1431.19 1079.88 1434.8 1083.23 1438.17 1082.8C1441.88 1082.33 1445.12 1076.81 1448.78 1076.5C1452.2 1076.21 1455.74 1080.55 1459.39 1081C1462.81 1081.42 1466.45 1079.18 1470 1079.1C1473.52 1079.02 1477.1 1080.65 1480.61 1080.5C1484.17 1080.35 1487.69 1078.17 1491.22 1078.2C1494.76 1078.23 1498.39 1081.02 1501.83 1080.7C1505.47 1080.36 1508.79 1076.63 1512.44 1076.2C1515.86 1075.8 1519.53 1078.28 1523.05 1078.2C1526.6 1078.12 1530.12 1075.7 1533.66 1075.7C1537.2 1075.7 1540.7 1078.01 1544.27 1078.2C1547.77 1078.38 1551.85 1078.37 1554.88 1076.8C1558.93 1074.7 1562.71 1071 1565.49 1067.2C1569.78 1061.33 1574.6 1054.93 1576.1 1047.8C1581.68 1021.2 1583.74 993.33 1586.71 966C1590.82 928.2 1593.65 890.25 1597.32 852.4C1600.72 817.35 1603.15 782.14 1607.93 747.3C1610.22 730.6 1613.59 713.77 1618.54 697.8C1620.67 690.94 1627.1 675.6 1629.15 678.8C1634.17 686.63 1637.27 713.37 1639.76 730.9C1644.35 763.24 1647.06 795.88 1650.37 828.4C1654.13 865.28 1656.71 902.29 1660.98 939.1C1663.78 963.29 1667.24 987.46 1671.59 1011.4C1674.31 1026.36 1677.01 1041.83 1682.2 1055.8C1684.08 1060.86 1688.77 1064.85 1692.81 1068.5C1695.85 1071.25 1699.65 1074.29 1703.42 1075C1706.72 1075.62 1710.5 1072.47 1714.03 1072.5C1717.57 1072.53 1721.05 1074.71 1724.64 1075.2C1728.12 1075.68 1731.76 1074.94 1735.25 1075.4C1738.84 1075.87 1742.3 1077.9 1745.86 1078C1749.38 1078.1 1752.94 1075.97 1756.47 1076C1760.01 1076.03 1763.52 1078.03 1767.08 1078.2C1770.59 1078.37 1774.15 1077.4 1777.69 1077"/>
<rect class="sq" x="1252.15" y="1081.35" width="11.3" height="11.3"/><rect class="sq" x="1262.76" y="1076.85" width="11.3" height="11.3"/><rect class="sq" x="1273.37" y="1070.85" width="11.3" height="11.3"/><rect class="sq" x="1283.98" y="1075.35" width="11.3" height="11.3"/><rect class="sq" x="1294.59" y="1073.35" width="11.3" height="11.3"/><rect class="sq" x="1305.2" y="1075.35" width="11.3" height="11.3"/><rect class="sq" x="1315.81" y="1072.85" width="11.3" height="11.3"/><rect class="sq" x="1326.42" y="1075.15" width="11.3" height="11.3"/><rect class="sq" x="1337.03" y="1070.85" width="11.3" height="11.3"/><rect class="sq" x="1347.64" y="1072.35" width="11.3" height="11.3"/><rect class="sq" x="1358.25" y="1070.15" width="11.3" height="11.3"/><rect class="sq" x="1368.86" y="1072.35" width="11.3" height="11.3"/><rect class="sq" x="1379.47" y="1070.55" width="11.3" height="11.3"/><rect class="sq" x="1390.08" y="1071.55" width="11.3" height="11.3"/><rect class="sq" x="1400.69" y="1071.55" width="11.3" height="11.3"/><rect class="sq" x="1411.3" y="1073.15" width="11.3" height="11.3"/><rect class="sq" x="1421.91" y="1073.55" width="11.3" height="11.3"/><rect class="sq" x="1432.52" y="1077.15" width="11.3" height="11.3"/><rect class="sq" x="1443.13" y="1070.85" width="11.3" height="11.3"/><rect class="sq" x="1453.74" y="1075.35" width="11.3" height="11.3"/><rect class="sq" x="1464.35" y="1073.45" width="11.3" height="11.3"/><rect class="sq" x="1474.96" y="1074.85" width="11.3" height="11.3"/><rect class="sq" x="1485.57" y="1072.55" width="11.3" height="11.3"/><rect class="sq" x="1496.18" y="1075.05" width="11.3" height="11.3"/><rect class="sq" x="1506.79" y="1070.55" width="11.3" height="11.3"/><rect class="sq" x="1517.4" y="1072.55" width="11.3" height="11.3"/><rect class="sq" x="1528.01" y="1070.05" width="11.3" height="11.3"/><rect class="sq" x="1538.62" y="1072.55" width="11.3" height="11.3"/><rect class="sq" x="1549.23" y="1071.15" width="11.3" height="11.3"/><rect class="sq" x="1559.84" y="1061.55" width="11.3" height="11.3"/><rect class="sq" x="1570.45" y="1042.15" width="11.3" height="11.3"/><rect class="sq" x="1581.06" y="960.35" width="11.3" height="11.3"/><rect class="sq" x="1591.67" y="846.75" width="11.3" height="11.3"/><rect class="sq" x="1602.28" y="741.65" width="11.3" height="11.3"/><rect class="sq" x="1612.89" y="692.15" width="11.3" height="11.3"/><rect class="sq" x="1623.5" y="673.15" width="11.3" height="11.3"/><rect class="sq" x="1634.11" y="725.25" width="11.3" height="11.3"/><rect class="sq" x="1644.72" y="822.75" width="11.3" height="11.3"/><rect class="sq" x="1655.33" y="933.45" width="11.3" height="11.3"/><rect class="sq" x="1665.94" y="1005.75" width="11.3" height="11.3"/><rect class="sq" x="1676.55" y="1050.15" width="11.3" height="11.3"/><rect class="sq" x="1687.16" y="1062.85" width="11.3" height="11.3"/><rect class="sq" x="1697.77" y="1069.35" width="11.3" height="11.3"/><rect class="sq" x="1708.38" y="1066.85" width="11.3" height="11.3"/><rect class="sq" x="1718.99" y="1069.55" width="11.3" height="11.3"/><rect class="sq" x="1729.6" y="1069.75" width="11.3" height="11.3"/><rect class="sq" x="1740.21" y="1072.35" width="11.3" height="11.3"/><rect class="sq" x="1750.82" y="1070.35" width="11.3" height="11.3"/><rect class="sq" x="1761.43" y="1072.55" width="11.3" height="11.3"/><rect class="sq" x="1772.04" y="1071.35" width="11.3" height="11.3"/>
<path class="sl" d="M1257.8 1088C1261.34 1087.67 1264.93 1087.66 1268.41 1087C1272.01 1086.32 1275.48 1084 1279.02 1084C1282.56 1084 1286.03 1086.58 1289.63 1087C1293.1 1087.41 1296.73 1086.91 1300.24 1086.5C1303.81 1086.08 1309.54 1087.48 1310.85 1084.5C1316.61 1071.41 1319.69 1053.97 1321.46 1038.3C1326.76 991.47 1328.31 944.08 1332.07 897C1335.38 855.58 1337.63 813.97 1342.68 772.8C1344.7 756.31 1349.72 740.26 1353.29 724C1356.8 708.03 1358.41 690.91 1363.9 676.1C1365.48 671.84 1370.88 667.01 1374.51 666.8C1377.95 666.61 1383.34 671.01 1385.12 674.9C1390.41 686.45 1390.49 701.46 1395.73 713.1C1397.56 717.16 1404.8 717.83 1406.34 722C1411.88 737.03 1413.5 754.45 1416.95 770.7C1420.57 787.78 1424.5 804.81 1427.56 822C1431.57 844.55 1433.64 867.48 1438.17 889.9C1440.72 902.52 1445.34 914.67 1448.78 927.1C1452.41 940.21 1454.87 953.75 1459.39 966.5C1461.95 973.71 1466.38 980.21 1470 987C1473.45 993.48 1476.28 1000.51 1480.61 1006.3C1483.36 1009.98 1488.52 1011.7 1491.22 1015.4C1495.59 1021.4 1497.41 1029.46 1501.83 1035.4C1504.48 1038.96 1509.07 1040.88 1512.44 1043.9C1516.14 1047.21 1519.16 1051.37 1523.05 1054.4C1526.23 1056.87 1529.88 1059.44 1533.66 1060.4C1536.95 1061.24 1540.85 1059.25 1544.27 1059.8C1547.92 1060.39 1551.27 1062.73 1554.88 1063.8C1558.34 1064.83 1561.97 1065.25 1565.49 1066.1C1569.05 1066.95 1572.54 1068.82 1576.1 1068.9C1579.62 1068.98 1583.37 1066.03 1586.71 1066.6C1590.44 1067.23 1593.6 1071.01 1597.32 1072.5C1600.67 1073.84 1604.38 1075.02 1607.93 1075.1C1611.45 1075.18 1614.97 1073.27 1618.54 1073C1622.04 1072.74 1625.82 1072.56 1629.15 1073.5C1632.89 1074.56 1636.1 1077.45 1639.76 1079C1643.18 1080.45 1646.75 1082.07 1650.37 1082.5C1653.82 1082.91 1657.52 1081.12 1660.98 1081.5C1664.59 1081.89 1667.98 1084.46 1671.59 1084.8C1675.06 1085.13 1678.65 1083.72 1682.2 1083.5C1685.72 1083.28 1689.3 1083.2 1692.81 1083.5C1696.37 1083.8 1699.9 1085.37 1703.42 1085.3C1706.97 1085.23 1710.56 1082.85 1714.03 1083.1C1717.63 1083.35 1721.01 1086.34 1724.64 1086.8C1728.08 1087.24 1731.78 1086.49 1735.25 1085.8C1738.86 1085.09 1742.32 1083.67 1745.86 1082.6"/>
<circle cx="1257.8" cy="1088" r="6.5"/><circle cx="1268.41" cy="1087" r="6.5"/><circle cx="1279.02" cy="1084" r="6.5"/><circle cx="1289.63" cy="1087" r="6.5"/><circle cx="1300.24" cy="1086.5" r="6.5"/><circle cx="1310.85" cy="1084.5" r="6.5"/><circle cx="1321.46" cy="1038.3" r="6.5"/><circle cx="1332.07" cy="897" r="6.5"/><circle cx="1342.68" cy="772.8" r="6.5"/><circle cx="1353.29" cy="724" r="6.5"/><circle cx="1363.9" cy="676.1" r="6.5"/><circle cx="1374.51" cy="666.8" r="6.5"/><circle cx="1385.12" cy="674.9" r="6.5"/><circle cx="1395.73" cy="713.1" r="6.5"/><circle cx="1406.34" cy="722" r="6.5"/><circle cx="1416.95" cy="770.7" r="6.5"/><circle cx="1427.56" cy="822" r="6.5"/><circle cx="1438.17" cy="889.9" r="6.5"/><circle cx="1448.78" cy="927.1" r="6.5"/><circle cx="1459.39" cy="966.5" r="6.5"/><circle cx="1470" cy="987" r="6.5"/><circle cx="1480.61" cy="1006.3" r="6.5"/><circle cx="1491.22" cy="1015.4" r="6.5"/><circle cx="1501.83" cy="1035.4" r="6.5"/><circle cx="1512.44" cy="1043.9" r="6.5"/><circle cx="1523.05" cy="1054.4" r="6.5"/><circle cx="1533.66" cy="1060.4" r="6.5"/><circle cx="1544.27" cy="1059.8" r="6.5"/><circle cx="1554.88" cy="1063.8" r="6.5"/><circle cx="1565.49" cy="1066.1" r="6.5"/><circle cx="1576.1" cy="1068.9" r="6.5"/><circle cx="1586.71" cy="1066.6" r="6.5"/><circle cx="1597.32" cy="1072.5" r="6.5"/><circle cx="1607.93" cy="1075.1" r="6.5"/><circle cx="1618.54" cy="1073" r="6.5"/><circle cx="1629.15" cy="1073.5" r="6.5"/><circle cx="1639.76" cy="1079" r="6.5"/><circle cx="1650.37" cy="1082.5" r="6.5"/><circle cx="1660.98" cy="1081.5" r="6.5"/><circle cx="1671.59" cy="1084.8" r="6.5"/><circle cx="1682.2" cy="1083.5" r="6.5"/><circle cx="1692.81" cy="1083.5" r="6.5"/><circle cx="1703.42" cy="1085.3" r="6.5"/><circle cx="1714.03" cy="1083.1" r="6.5"/><circle cx="1724.64" cy="1086.8" r="6.5"/><circle cx="1735.25" cy="1085.8" r="6.5"/><circle cx="1745.86" cy="1082.6" r="6.5"/>
<path class="ax" style="stroke-linecap:butt" d="M1748.1 685.7h41.3M1748.1 728.7h41.3"/>
<circle cx="1768.7" cy="685.9" r="6.2"/>
<rect class="sq" style="stroke-width:1.7" x="1763.05" y="722.95" width="12.3" height="12.3"/>
<text class="lg" x="1796.34" y="695.9" textLength="201.86" lengthAdjust="spacingAndGlyphs">Heparin plasma</text>
<text class="lg" x="1796.53" y="739" textLength="186.37" lengthAdjust="spacingAndGlyphs">Citrate plasma</text>
</g>
</svg>
</body></html>
